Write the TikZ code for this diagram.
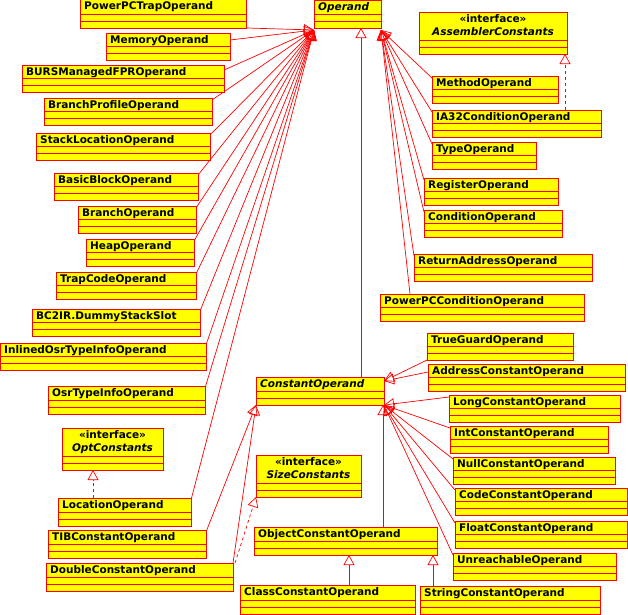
\documentclass[tikz,border=0pt]{standalone}
\usepackage{fontspec}
\setmainfont{DejaVu Sans}
\usetikzlibrary{arrows.meta,fit}
\definecolor{uy}{RGB}{255,255,0}
\tikzset{
 boxst/.style={draw=red,fill=uy,line width=0.9pt},
 lbl/.style={anchor=north west,inner sep=0,font=\fontsize{10.5}{12}\selectfont\bfseries},
 ilbl/.style={anchor=north,inner sep=0,align=center,font=\fontsize{10.5}{13}\selectfont\bfseries},
 gen/.style={draw=red,line width=0.7pt,-{Triangle[open,length=10pt,width=11pt]}},
 real/.style={gen,dashed}
}
\newcommand\ubox[6]{%
 \draw[boxst] (#2,#3) rectangle (#4,#5);
 \draw[red,line width=0.9pt] (#2,#5-14) -- (#4,#5-14) (#2,#5-7) -- (#4,#5-7);
 \node (#1) [inner sep=0,fit={(#2,#3) (#4,#5)}] {};
 \node[lbl] at (#2+4,#3+2.5) {#6};}
\newcommand\ibox[6]{%
 \draw[boxst] (#2,#3) rectangle (#4,#5);
 \draw[red,line width=0.9pt] (#2,#5-14) -- (#4,#5-14) (#2,#5-7) -- (#4,#5-7);
 \node (#1) [inner sep=0,fit={(#2,#3) (#4,#5)}] {};
 \node[ilbl] at ({(#2+#4)/2},#3+2) {«interface»\\\itshape #6};}
\begin{document}
\begin{tikzpicture}[x=1pt,y=-1pt]
\useasboundingbox (0,0) rectangle (628,614);
\coordinate (opL) at (314,30);
\coordinate (opR) at (381,30);
\coordinate (opM) at (361,28);
\coordinate (coBL) at (256,405);
\coordinate (coBR) at (384,405);
\coordinate (coR) at (384,381);
% lines first
\draw[gen] (247,28) -- (opL);
\draw[gen] (230,40) -- (opL);
\draw[gen] (224,70) -- (opL);
\draw[gen] (212,100) -- (opL);
\draw[gen] (210,135) -- (opL);
\draw[gen] (198,175) -- (opL);
\draw[gen] (196,208) -- (opL);
\draw[gen] (194,241) -- (opL);
\draw[gen] (196,274) -- (opL);
\draw[gen] (200,311) -- (opL);
\draw[gen] (206,345) -- (opL);
\draw[gen] (205,388) -- (opL);
\draw[gen] (191,500) -- (opL);
\draw[gen] (361,377) -- (opM);
\draw[gen] (432,78) -- (opR);
\draw[gen] (432,112) -- (opR);
\draw[gen] (432,144) -- (opR);
\draw[gen] (424,180) -- (opR);
\draw[gen] (424,212) -- (opR);
\draw[gen] (414,256) -- (opR);
\draw[gen] (410,294) -- (opR);
\draw[real] (565,110) -- (565,54);
\draw[real] (93,498) -- (93,470);
\draw[gen] (206,532) -- (coBL);
\draw[gen] (233,563) -- (coBL);
\draw[real] (235,563) -- (256,497);
\draw[gen] (427,360) -- (coR);
\draw[gen] (428,372) -- (coR);
\draw[gen] (449,397) -- (coBR);
\draw[gen] (450,428) -- (coBR);
\draw[gen] (453,459) -- (coBR);
\draw[gen] (455,490) -- (coBR);
\draw[gen] (455,523) -- (coBR);
\draw[gen] (453,555) -- (coBR);
\draw[gen] (383,527) -- (383,405);
\draw[gen] (349,585) -- (349,555);
\draw[gen] (433,586) -- (433,555);
% boxes
\ubox{ppctrap}{80}{-1}{246}{28}{PowerPCTrapOperand}
\ubox{mem}{106}{33}{230}{60}{MemoryOperand}
\ubox{burs}{22}{65}{224}{92}{BURSManagedFPROperand}
\ubox{bprof}{44}{98}{212}{125}{BranchProfileOperand}
\ubox{stack}{36}{133}{210}{160}{StackLocationOperand}
\ubox{bb}{54}{173}{198}{200}{BasicBlockOperand}
\ubox{branch}{78}{206}{196}{233}{BranchOperand}
\ubox{heap}{86}{239}{194}{266}{HeapOperand}
\ubox{trap}{56}{272}{196}{299}{TrapCodeOperand}
\ubox{dummy}{32}{309}{200}{336}{BC2IR.DummyStackSlot}
\ubox{inl}{0}{343}{206}{370}{InlinedOsrTypeInfoOperand}
\ubox{osr}{48}{386}{205}{414}{OsrTypeInfoOperand}
\ibox{optc}{62}{428}{163}{470}{OptConstants}
\ubox{loc}{58}{498}{191}{526}{LocationOperand}
\ubox{tib}{48}{530}{206}{558}{TIBConstantOperand}
\ubox{dbl}{46}{563}{233}{591}{DoubleConstantOperand}
\ubox{const}{256}{377}{384}{405}{\itshape ConstantOperand}
\ibox{sizec}{256}{455}{361}{497}{SizeConstants}
\ubox{obj}{254}{527}{437}{555}{ObjectConstantOperand}
\ubox{cls}{240}{585}{415}{614}{ClassConstantOperand}
\ubox{str}{420}{586}{600}{614}{StringConstantOperand}
\ubox{operand}{314}{0}{381}{28}{\itshape Operand}
\ibox{asm}{419}{12}{567}{54}{AssemblerConstants}
\ubox{meth}{432}{76}{558}{103}{MethodOperand}
\ubox{ia32}{432}{110}{601}{137}{IA32ConditionOperand}
\ubox{type}{432}{142}{536}{169}{TypeOperand}
\ubox{reg}{424}{178}{558}{205}{RegisterOperand}
\ubox{cond}{424}{210}{562}{237}{ConditionOperand}
\ubox{ret}{414}{254}{592}{281}{ReturnAddressOperand}
\ubox{ppccond}{380}{294}{584}{321}{PowerPCConditionOperand}
\ubox{tg}{427}{333}{573}{360}{TrueGuardOperand}
\ubox{addr}{428}{364}{625}{391}{AddressConstantOperand}
\ubox{long}{449}{395}{620}{422}{LongConstantOperand}
\ubox{int}{450}{426}{608}{453}{IntConstantOperand}
\ubox{null}{453}{457}{615}{484}{NullConstantOperand}
\ubox{code}{455}{488}{627}{515}{CodeConstantOperand}
\ubox{float}{455}{521}{627}{548}{FloatConstantOperand}
\ubox{unr}{453}{553}{616}{580}{UnreachableOperand}
\end{tikzpicture}
\end{document}
